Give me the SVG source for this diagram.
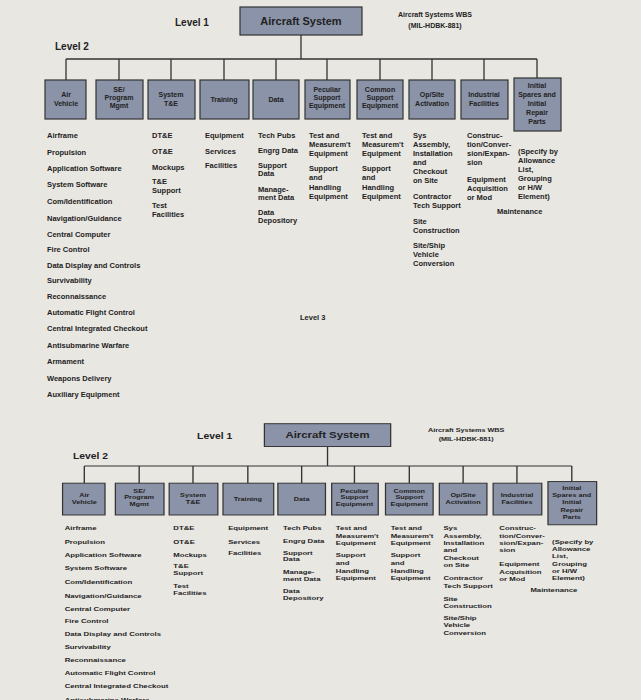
<svg xmlns="http://www.w3.org/2000/svg" xmlns:xlink="http://www.w3.org/1999/xlink" width="641" height="700" viewBox="0 0 641 700">
<style>
text{font-family:"Liberation Sans",Arial,sans-serif;font-weight:bold;fill:#222}
.t{font-size:7.5px}
.b{font-size:7px;text-anchor:middle}
.h{font-size:10px}
.box{fill:#8a93a8;stroke:#333;stroke-width:1.2}
.ln{stroke:#333;stroke-width:1.3;fill:none}
</style>
<rect width="641" height="700" fill="#e9e7e2"/>
<defs>
<g id="wbs">
<g id="connectors">
<path class="ln" d="M301 35V59M66 59H537M66 59V80M119 59V80M171 59V80M224 59V80M276 59V80M327 59V80M380 59V80M432 59V80M484 59V80M537 59V78"/>
</g>
<text class="h" x="175" y="26">Level 1</text>
<text class="h" x="55" y="50">Level 2</text>
<g id="top"><rect class="box" x="240" y="7" width="122" height="28"/><text x="301" y="25" font-size="11" text-anchor="middle">Aircraft System</text></g>
<text class="b" x="435" y="17">Aircraft Systems WBS</text>
<text class="b" x="435" y="28">(MIL-HDBK-881)</text>
<g id="n1"><rect class="box" x="45" y="80" width="41" height="39"/><text class="b" x="66" y="97">Air</text><text class="b" x="66" y="106">Vehicle</text></g>
<g id="n2"><rect class="box" x="96" y="80" width="47" height="39"/><text class="b" x="119" y="92">SE/</text><text class="b" x="119" y="100">Program</text><text class="b" x="119" y="108">Mgmt</text></g>
<g id="n3"><rect class="box" x="148" y="80" width="47" height="39"/><text class="b" x="171" y="97">System</text><text class="b" x="171" y="106">T&amp;E</text></g>
<g id="n4"><rect class="box" x="200" y="80" width="49" height="39"/><text class="b" x="224" y="102">Training</text></g>
<g id="n5"><rect class="box" x="253" y="80" width="46" height="39"/><text class="b" x="276" y="102">Data</text></g>
<g id="n6"><rect class="box" x="305" y="80" width="45" height="39"/><text class="b" x="327" y="92">Peculiar</text><text class="b" x="327" y="100">Support</text><text class="b" x="327" y="108">Equipment</text></g>
<g id="n7"><rect class="box" x="357" y="80" width="46" height="39"/><text class="b" x="380" y="92">Common</text><text class="b" x="380" y="100">Support</text><text class="b" x="380" y="108">Equipment</text></g>
<g id="n8"><rect class="box" x="409" y="80" width="46" height="39"/><text class="b" x="432" y="97">Op/Site</text><text class="b" x="432" y="106">Activation</text></g>
<g id="n9"><rect class="box" x="461" y="80" width="47" height="39"/><text class="b" x="484" y="97">Industrial</text><text class="b" x="484" y="106">Facilities</text></g>
<g id="n10"><rect class="box" x="514" y="78" width="47" height="53"/><text class="b" x="537" y="88">Initial</text><text class="b" x="537" y="97">Spares and</text><text class="b" x="537" y="106">Initial</text><text class="b" x="537" y="115">Repair</text><text class="b" x="537" y="124">Parts</text></g>
<g class="t">
<text x="47" y="138">Airframe</text><text x="47" y="155">Propulsion</text><text x="47" y="171">Application Software</text><text x="47" y="187">System Software</text><text x="47" y="204">Com/Identification</text><text x="47" y="221">Navigation/Guidance</text><text x="47" y="237">Central Computer</text><text x="47" y="252">Fire Control</text><text x="47" y="268">Data Display and Controls</text><text x="47" y="283">Survivability</text><text x="47" y="299">Reconnaissance</text><text x="47" y="315">Automatic Flight Control</text><text x="47" y="331">Central Integrated Checkout</text><text x="47" y="348">Antisubmarine Warfare</text><text x="47" y="364">Armament</text><text x="47" y="381">Weapons Delivery</text><text x="47" y="397">Auxiliary Equipment</text>
<text x="152" y="138">DT&amp;E</text><text x="152" y="154">OT&amp;E</text><text x="152" y="170">Mockups</text><text x="152" y="184">T&amp;E</text><text x="152" y="193">Support</text><text x="152" y="208">Test</text><text x="152" y="217">Facilities</text>
<text x="205" y="138">Equipment</text><text x="205" y="154">Services</text><text x="205" y="168">Facilities</text>
<text x="258" y="138">Tech Pubs</text><text x="258" y="153">Engrg Data</text><text x="258" y="168">Support</text><text x="258" y="176">Data</text><text x="258" y="192">Manage-</text><text x="258" y="200">ment Data</text><text x="258" y="215">Data</text><text x="258" y="223">Depository</text>
<text x="309" y="138">Test and</text><text x="309" y="147">Measurem't</text><text x="309" y="156">Equipment</text><text x="309" y="171">Support</text><text x="309" y="180">and</text><text x="309" y="190">Handling</text><text x="309" y="199">Equipment</text>
<text x="362" y="138">Test and</text><text x="362" y="147">Measurem't</text><text x="362" y="156">Equipment</text><text x="362" y="171">Support</text><text x="362" y="180">and</text><text x="362" y="190">Handling</text><text x="362" y="199">Equipment</text>
<text x="413" y="138">Sys</text><text x="413" y="147">Assembly,</text><text x="413" y="156">Installation</text><text x="413" y="165">and</text><text x="413" y="174">Checkout</text><text x="413" y="183">on Site</text><text x="413" y="199">Contractor</text><text x="413" y="208">Tech Support</text><text x="413" y="224">Site</text><text x="413" y="233">Construction</text><text x="413" y="248">Site/Ship</text><text x="413" y="257">Vehicle</text><text x="413" y="266">Conversion</text>
<text x="467" y="138">Construc-</text><text x="467" y="147">tion/Conver-</text><text x="467" y="156">sion/Expan-</text><text x="467" y="165">sion</text><text x="467" y="182">Equipment</text><text x="467" y="191">Acquisition</text><text x="467" y="200">or Mod</text><text x="497" y="214">Maintenance</text>
<text x="518" y="154">(Specify by</text><text x="518" y="163">Allowance</text><text x="518" y="172">List,</text><text x="518" y="181">Grouping</text><text x="518" y="190">or H/W</text><text x="518" y="199">Element)</text>
</g>
</g>
</defs>
<use xlink:href="#wbs"/>
<text class="t" x="300" y="320">Level 3</text>
<use xlink:href="#wbs" transform="translate(16,418) scale(1.035,0.815)"/>
</svg>
